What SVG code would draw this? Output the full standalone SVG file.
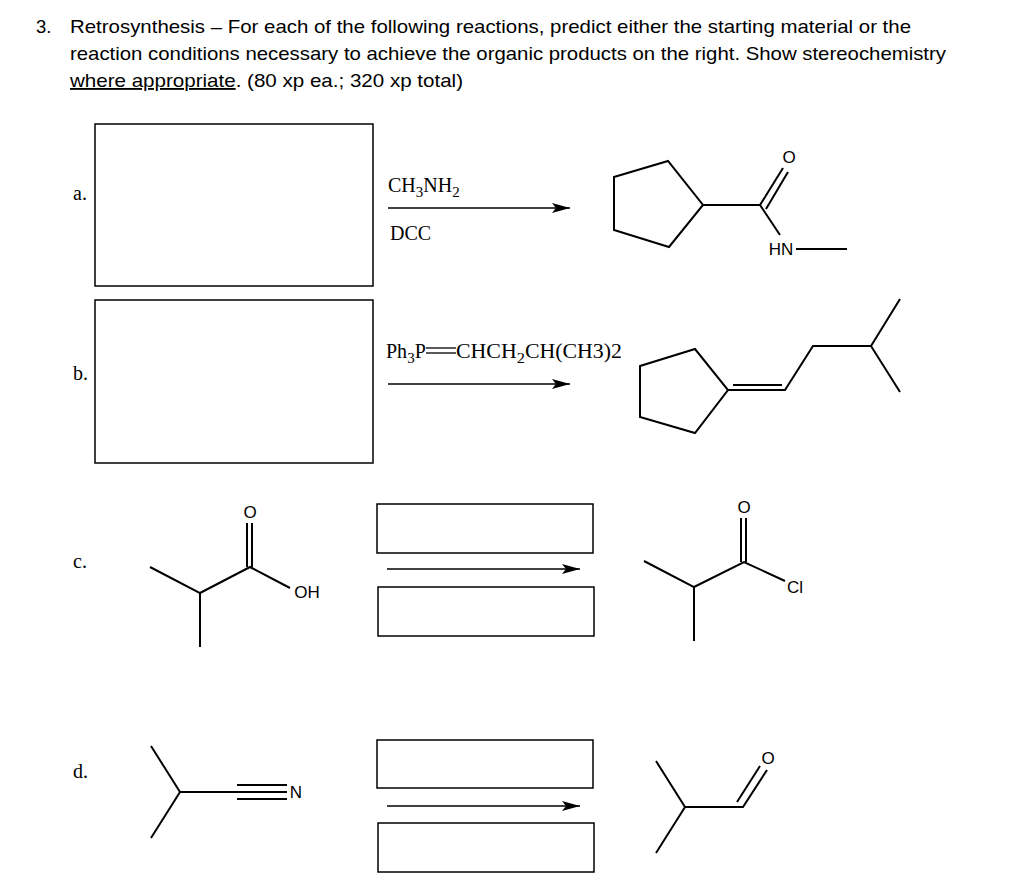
<svg xmlns="http://www.w3.org/2000/svg" width="1024" height="880" viewBox="0 0 1024 880">
<style>
.h{font-family:"Liberation Sans",Arial,sans-serif;font-size:18.5px;fill:#000}
.s{font-family:"Liberation Serif","Times New Roman",serif;font-size:20px;fill:#000}
.a{font-family:"Liberation Sans",Arial,sans-serif;font-size:17px;fill:#000}
.b{fill:none;stroke:#000;stroke-width:2}
.m{fill:none;stroke:#000;stroke-width:2;stroke-linejoin:miter}
</style>
<defs><marker id="ar" markerWidth="18" markerHeight="10" refX="18" refY="5" orient="auto" markerUnits="userSpaceOnUse"><path d="M0,0 L18,5 L0,10 L4,5 Z" fill="#000"/></marker></defs>
<rect width="1024" height="880" fill="#fff"/>
<g id="header">
<text class="h" x="36" y="33">3.</text>
<text class="h" x="70" y="33" textLength="841" lengthAdjust="spacingAndGlyphs">Retrosynthesis – For each of the following reactions, predict either the starting material or the</text>
<text class="h" x="70" y="60" textLength="876" lengthAdjust="spacingAndGlyphs">reaction conditions necessary to achieve the organic products on the right.  Show stereochemistry</text>
<text class="h" x="70" y="87" textLength="393" lengthAdjust="spacingAndGlyphs"><tspan text-decoration="underline">where appropriate</tspan>.  (80 xp ea.; 320 xp total)</text>
</g>
<g id="labels">
<text class="s" x="73" y="200" font-size="17">a.</text>
<text class="s" x="73" y="380" font-size="17">b.</text>
<text class="s" x="73" y="568" font-size="17">c.</text>
<text class="s" x="73" y="778" font-size="17">d.</text>
</g>
<g id="boxes" fill="none" stroke="#000" stroke-width="1.5">
<rect x="95" y="124" width="278" height="162"/>
<rect x="95" y="300" width="278" height="163"/>
<rect x="377" y="504" width="216" height="49"/>
<rect x="378" y="587" width="216" height="49"/>
<rect x="377" y="740" width="216" height="48"/>
<rect x="378" y="823" width="216" height="49"/>
</g>
<g id="connectors" stroke="#000" stroke-width="1.5">
<line x1="388" y1="208" x2="570" y2="208" marker-end="url(#ar)"/>
<line x1="388" y1="384" x2="570" y2="384" marker-end="url(#ar)"/>
<line x1="387" y1="569" x2="580" y2="569" marker-end="url(#ar)"/>
<line x1="387" y1="806" x2="580" y2="806" marker-end="url(#ar)"/>
</g>
<g id="reagents">
<text class="s" x="388" y="192">CH<tspan font-size="15" dy="5">3</tspan><tspan dy="-5">NH</tspan><tspan font-size="15" dy="5">2</tspan></text>
<text class="s" x="390" y="240" font-size="19">DCC</text>
<text class="s" x="386" y="358">Ph<tspan font-size="15" dy="5">3</tspan><tspan dy="-5">P</tspan></text>
<line x1="426" y1="348" x2="456" y2="348" stroke="#000" stroke-width="1.3"/>
<line x1="426" y1="353" x2="456" y2="353" stroke="#000" stroke-width="1.3"/>
<text class="s" x="456" y="358" textLength="166" lengthAdjust="spacingAndGlyphs">CHCH<tspan font-size="15" dy="5">2</tspan><tspan dy="-5">CH(CH3)2</tspan></text>
</g>
<g id="productA">
<path class="m" d="M614,177 L668,161 L703,205 L669,247 L614,230 Z"/>
<path class="b" d="M703,205 L760,205 L780,235"/>
<line class="b" x1="760" y1="205" x2="783" y2="168"/>
<line class="b" x1="766" y1="209" x2="788" y2="172"/>
<text class="a" x="789" y="163" text-anchor="middle">O</text>
<text class="a" x="781" y="255" text-anchor="middle">HN</text>
<line class="b" x1="796" y1="249" x2="847" y2="249"/>
</g>
<g id="productB">
<path class="m" d="M640,366 L695,349 L728,390 L695,433 L640,417 Z"/>
<path class="b" d="M728,390 L785,390 L813,346 L871,346 L900,299 M871,346 L900,392"/>
<line class="b" x1="733" y1="385" x2="782" y2="385"/>
</g>
<g id="acidC">
<path class="b" d="M150,567 L200,593 L200,647 M200,593 L250,567 L290,588"/>
<line class="b" x1="247" y1="567" x2="247" y2="523"/>
<line class="b" x1="252" y1="567" x2="252" y2="523"/>
<text class="a" x="250" y="518" text-anchor="middle">O</text>
<text class="a" x="307" y="598" text-anchor="middle">OH</text>
</g>
<g id="chlorideC">
<path class="b" d="M644,561 L694,587 L694,641 M694,587 L744,562 L785,581"/>
<line class="b" x1="741" y1="562" x2="741" y2="518"/>
<line class="b" x1="746" y1="562" x2="746" y2="518"/>
<text class="a" x="744" y="513" text-anchor="middle">O</text>
<text class="a" x="795" y="593" text-anchor="middle">Cl</text>
</g>
<g id="nitrileD">
<path class="b" d="M151,746 L180,792 L151,838 M180,792 L237,792"/>
<line class="b" x1="237" y1="785" x2="287" y2="785"/>
<line class="b" x1="237" y1="792" x2="287" y2="792"/>
<line class="b" x1="237" y1="799" x2="287" y2="799"/>
<text class="a" x="296" y="798" text-anchor="middle">N</text>
</g>
<g id="aldehydeD">
<path class="b" d="M656,761 L685,807 L656,853 M685,807 L743,807 L767,770"/>
<line class="b" x1="737" y1="802" x2="760" y2="766"/>
<text class="a" x="768" y="764" text-anchor="middle">O</text>
</g>
</svg>
